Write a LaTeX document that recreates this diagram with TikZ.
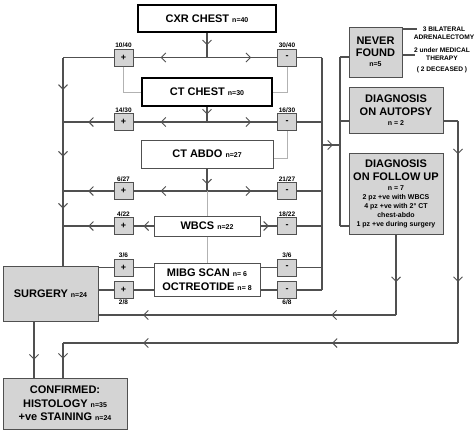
\documentclass[tikz,border=0pt]{standalone}
\usepackage{fontspec}
\setmainfont{Liberation Sans}
\usetikzlibrary{arrows.meta,decorations.markings}
\definecolor{boxfill}{RGB}{212,212,212}
\definecolor{linec}{RGB}{80,80,80}
\definecolor{lightl}{RGB}{178,178,178}
\newcommand\smt[1]{{\fontsize{7}{8}\selectfont #1}}
\newcommand\bigt{\fontsize{11}{13.5}\selectfont\bfseries}
\tikzset{
  chev/.tip={Straight Barb[length=4.5pt,width=9pt,line width=0.9pt]},
  midarr/.style={postaction={decorate,decoration={markings,mark=at position #1 with {\arrow{chev}}}}},
  midarr/.default=0.5,
  conn/.style={draw=linec,line width=1.1pt},
  faint/.style={draw=lightl,line width=1pt},
  wbox/.style={draw=linec,line width=1pt,fill=white,align=center,inner sep=0pt,font=\bigt},
  tbox/.style={draw=black,line width=1.8pt,fill=white,align=center,inner sep=0pt,font=\bigt},
  gbox/.style={draw=linec,line width=1pt,fill=boxfill,align=center,inner sep=0pt,font=\bigt},
  pm/.style={draw=linec,line width=1pt,fill=boxfill,minimum width=19pt,minimum height=17pt,inner sep=0pt,font=\fontsize{9}{9}\selectfont\bfseries},
  lbl/.style={font=\fontsize{6.5}{7}\selectfont\bfseries,inner sep=0.6pt},
  ann/.style={font=\fontsize{6.6}{7.6}\selectfont\bfseries,align=center,inner sep=0pt},
}
\begin{document}
\begin{tikzpicture}[x=1pt,y=-1pt]
\path[use as bounding box,fill=white] (0,0) rectangle (474,431);

% central column
\node[tbox,minimum width=138pt,minimum height=27pt] (cxr) at (207,18.5) {CXR CHEST \smt{n=40}};
\node[tbox,minimum width=130pt,minimum height=28pt] (ctc) at (207,92) {CT CHEST \smt{n=30}};
\node[wbox,minimum width=132pt,minimum height=28pt] (cta) at (207,154) {CT ABDO \smt{n=27}};
\node[wbox,minimum width=106pt,minimum height=20pt] (wbcs) at (207,226) {WBCS \smt{n=22}};
\node[wbox,minimum width=106pt,minimum height=33pt,font=\fontsize{11}{14}\selectfont\bfseries] (mibg) at (207,279.5) {MIBG SCAN \smt{n= 6}\\OCTREOTIDE \smt{n= 8}};

% plus / minus boxes
\node[pm,label={[lbl]above:10/40}] (p1) at (123.5,57.5) {+};
\node[pm,label={[lbl]above:30/40}] (m1) at (287,57.5) {-};
\node[pm,label={[lbl]above:14/30}] (p2) at (123.5,122) {+};
\node[pm,label={[lbl]above:16/30}] (m2) at (287,122) {-};
\node[pm,label={[lbl]above:6/27}] (p3) at (123.5,191) {+};
\node[pm,label={[lbl]above:21/27}] (m3) at (287,191) {-};
\node[pm,label={[lbl]above:4/22}] (p4) at (123.5,226) {+};
\node[pm,label={[lbl]above:18/22}] (m4) at (287,226) {-};
\node[pm,label={[lbl]above:3/6}] (p5) at (123.5,267.5) {+};
\node[pm,label={[lbl]above:3/6}] (m5) at (287,267.5) {-};
\node[pm,label={[lbl]below:2/8}] (p6) at (123.5,290) {+};
\node[pm,label={[lbl]below:6/8}] (m6) at (287,290) {-};

% right column
\node[gbox,minimum width=53pt,minimum height=50pt] (never) at (375.5,52) {NEVER\\[-1.5pt]FOUND\\[-3.5pt]\smt{n=5}};
\node[gbox,minimum width=94pt,minimum height=46pt] (autopsy) at (396,110) {DIAGNOSIS\\ON AUTOPSY\\[-4pt]\smt{n = 2}};
\node[gbox,minimum width=94pt,minimum height=81pt] (follow) at (396,193.5) {DIAGNOSIS\\[-0.5pt]ON FOLLOW UP\\[-3.5pt]\smt{n = 7}\\[-4.5pt]\smt{2 pz +ve with WBCS}\\[-4.5pt]\smt{4 pz +ve with 2° CT}\\[-4.5pt]\smt{chest-abdo}\\[-4.5pt]\smt{1 pz +ve during surgery}};
\node[ann] (n1) at (444,33) {3 BILATERAL\\ADRENALECTOMY};
\node[ann] (n2) at (442,60.5) {2 under MEDICAL\\THERAPY\\[4pt]( 2 DECEASED )};

% left column
\node[gbox,minimum width=95pt,minimum height=55pt] (surgery) at (50.5,293.5) {SURGERY \smt{n=24}};
\node[gbox,minimum width=124pt,minimum height=51pt] (confirmed) at (65,403.5) {CONFIRMED:\\HISTOLOGY \smt{n=35}\\+ve STAINING \smt{n=24}};

% coordinates
\coordinate (j1) at (cxr.south |- p1);
\coordinate (j2) at (ctc.south |- p2);
\coordinate (j3) at (cta.south |- p3);
\coordinate (cL1) at (63,57.5);
\coordinate (cL2) at (cL1 |- p2);
\coordinate (cL3) at (cL1 |- p3);
\coordinate (cL4) at (cL1 |- p4);
\coordinate (cR1) at (322,57.5);
\coordinate (cR2) at (cR1 |- m2);
\coordinate (cR3) at (cR1 |- m3);
\coordinate (cR4) at (cR1 |- m4);
\coordinate (cR5) at (cR1 |- m5);
\coordinate (cR6) at (cR1 |- m6);
\coordinate (cRa) at (322,145);
\coordinate (bA0) at (340,145);
\coordinate (bN) at (340,57);
\coordinate (bA) at (340,121);
\coordinate (bF) at (340,226);
\coordinate (a1) at (417,29);
\coordinate (a2) at (415,55);
\coordinate (aR) at (458,121);
\coordinate (aB) at (458,343);
\coordinate (aL) at (63,343);
\coordinate (fB) at (follow.south |- 0,315);
\coordinate (sT) at ([xshift=-16.5pt]surgery.south);

% row 1
\draw[conn,midarr] (cxr.south) -- (j1);
\draw[conn,midarr=0.63] (j1) -- (p1.east);
\draw[conn,midarr=0.63] (j1) -- (m1.west);
\draw[conn] (p1.west) -- (cL1);
\draw[conn] (m1.east) -- (cR1);
\draw[faint] (p1.south) |- (ctc.west);
\draw[faint] (m1.south) |- (ctc.east);
% row 2
\draw[conn,midarr] (ctc.south) -- (j2);
\draw[conn,midarr=0.63] (j2) -- (p2.east);
\draw[conn,midarr=0.63] (j2) -- (m2.west);
\draw[conn,midarr] (p2.west) -- (cL2);
\draw[conn] (m2.east) -- (cR2);
\draw[faint] (m2.south) |- ([yshift=-4pt]cta.east);
% row 3
\draw[conn,midarr=0.7] (cta.south) -- (j3);
\draw[conn,midarr=0.63] (j3) -- (p3.east);
\draw[conn,midarr=0.63] (j3) -- (m3.west);
\draw[conn,midarr] (p3.west) -- (cL3);
\draw[conn] (m3.east) -- (cR3);
\draw[faint] (j3) -- (wbcs.north);
\draw[faint] (wbcs.south) -- (mibg.north);
% row 4
\draw[conn,midarr] (wbcs.west) -- (p4.east);
\draw[conn,midarr] (p4.west) -- (cL4);
\draw[conn,midarr] (wbcs.east) -- (m4.west);
\draw[conn] (m4.east) -- (cR4);
% rows 5, 6
\draw[conn] (p5.west) -- (p5.west -| surgery.east);
\draw[conn] (p5.east) -- (p5.east -| mibg.west);
\draw[conn] (m5.west) -- (m5.west -| mibg.east);
\draw[conn] (m5.east) -- (cR5);
\draw[conn] (p6.west) -- (p6.west -| surgery.east);
\draw[conn] (p6.east) -- (p6.east -| mibg.west);
\draw[conn] (m6.west) -- (m6.west -| mibg.east);
\draw[conn] (m6.east) -- (cR6);
% left bus
\draw[conn,midarr] (cL1) -- (cL2);
\draw[conn,midarr] (cL2) -- (cL3);
\draw[conn,midarr] (cL3) -- (cL4);
\draw[conn] (cL4) -- (cL4 |- surgery.north);
% right bus
\draw[conn] (cR1) -- (cR6);
\draw[conn,midarr=0.6] (cRa) -- (bA0);
\draw[conn] (bN) -- (bF);
\draw[conn] (bN) -- (bN -| never.west);
\draw[conn] (bA) -- (bA -| autopsy.west);
\draw[conn] (bF) -- (bF -| follow.west);
% never found notes
\draw[conn] (a1 -| never.east) -- (a1);
\draw[conn] (a2 -| never.east) -- (a2);
% autopsy path
\draw[conn] (aR -| autopsy.east) -- (aR);
\draw[conn,midarr=0.149,midarr=0.725] (aR) -- (aB);
\draw[conn,midarr=0.319,midarr=0.797] (aB) -- (aL);
\draw[conn,midarr=0.45] (aL) -- (aL |- confirmed.north);
% follow path
\draw[conn,midarr=0.59] (follow.south) -- (fB);
\draw[conn,midarr=0.217,midarr=0.85] (fB) -- (fB -| surgery.east);
% surgery to confirmed
\draw[conn,midarr=0.68] (sT) -- (sT |- confirmed.north);
\end{tikzpicture}
\end{document}
